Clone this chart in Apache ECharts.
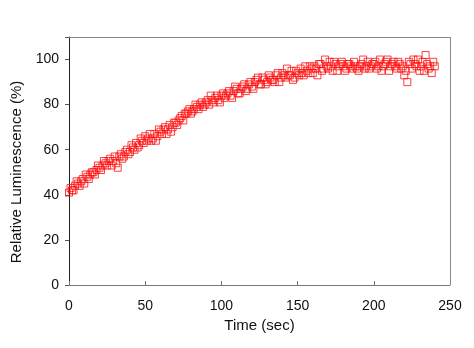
<!DOCTYPE html>
<html>
<head>
<meta charset="utf-8">
<script src="https://cdn.jsdelivr.net/npm/echarts@6/dist/echarts.min.js"></script>
<style>html,body{margin:0;padding:0;background:#fff}#c{width:474px;height:348px}</style>
</head>
<body>
<div id="c"></div>
<script>
var timesA = [0,2,4,6,8,10,12,14,16,18,20,22,24,26,28,30,32,34,36,38,40,42,44,46,48,50,52,54,56,58,60,62,64,66,68,70,72,74,76,78,80,82,84,86,88,90,92,94,96,98,100,102,104,106,108,110,112,114,116,118,120,122,124,126,128,130,132,134,136,138,140,142,144,146,148,150,152,154,156,158,160,162,164,166,168,170,172,174,176,178,180,182,184,186,188,190,192,194,196,198,200,202,204,206,208,210,212,214,216,218,220,222,224,226,228,230,232,234,236,238,240];
var lumA = [41,42,44,45,46,45,48,49,50,51,52,53,54,55,53,57,52,58,57,60,59,61,63,62,64,66,65,64,67,66,68,69,67,71,70,72,73,75,76,77,76,78,79,80,79,81,80,82,83,82,84,83,85,84,86,87,85,88,86,89,88,90,92,89,91,90,92,91,93,90,94,92,93,95,92,94,96,93,95,97,94,96,98,95,100,96,97,99,95,98,97,96,98,96,97,95,98,96,99,97,98,96,100,97,99,95,98,97,99,96,93,90,98,100,97,95,99,102,96,94,97];
var timesB = [1,3,5,7,9,11,13,15,17,19,21,23,25,27,29,31,33,35,37,39,41,43,45,47,49,51,53,55,57,59,61,63,65,67,69,71,73,75,77,79,81,83,85,87,89,91,93,95,97,99,101,103,105,107,109,111,113,115,117,119,121,123,125,127,129,131,133,135,137,139,141,143,145,147,149,151,153,155,157,159,161,163,165,167,169,171,173,175,177,179,181,183,185,187,189,191,193,195,197,199,201,203,205,207,209,211,213,215,217,219,221,223,225,227,229,231,233,235,237,239];
var lumB = [43,42,46,44,47,49,47,50,49,53,51,55,53,56,55,54,57,56,59,58,62,60,61,65,63,64,67,65,64,69,67,70,69,68,72,71,74,73,76,78,77,80,78,81,80,82,84,81,84,81,85,84,86,83,88,85,87,89,87,90,87,91,89,92,89,93,91,90,94,92,93,96,93,91,95,93,94,97,94,96,97,93,98,96,97,99,95,98,97,99,95,98,97,99,96,97,100,97,96,98,99,97,95,98,100,97,99,96,98,97,95,99,96,98,100,97,95,98,97,99];
var xTicks = [0,50,100,150,200,250];
var yTicks = [0,20,40,60,80,100];
var xMax = 250, yMax = 110;

var data = timesA.map(function(t,i){return [t, lumA[i]];})
  .concat(timesB.map(function(t,i){return [t, lumB[i]];}));
var font = 'Liberation Sans';
var chart = echarts.init(document.getElementById('c'), null, {renderer:'canvas'});
chart.setOption({
  animation:false,
  backgroundColor:'#fff',
  grid:{left:69,right:24,top:37,bottom:63},
  xAxis:{type:'value',min:0,max:xMax,interval:50,
    name:'Time (sec)',nameLocation:'middle',nameGap:33,
    nameTextStyle:{fontFamily:font,fontSize:15,color:'#111'},
    axisLine:{show:true,lineStyle:{color:'#777',width:1}},
    axisTick:{show:true,inside:true,length:4,lineStyle:{color:'#777'}},
    axisLabel:{fontFamily:font,fontSize:14,color:'#111',margin:14,
      formatter:function(v){return xTicks.indexOf(v)>=0?String(v):'';}},
    splitLine:{show:false}},
  yAxis:{type:'value',min:0,max:yMax,interval:20,
    name:'Relative Luminescence (%)',nameLocation:'middle',nameGap:41,
    nameTextStyle:{fontFamily:font,fontSize:15,color:'#111',padding:[0,22,0,0]},
    axisLine:{show:true,lineStyle:{color:'#222',width:1}},
    axisTick:{show:true,inside:false,length:4,lineStyle:{color:'#555'}},
    axisLabel:{fontFamily:font,fontSize:14,color:'#111',margin:10,
      formatter:function(v){return yTicks.indexOf(v)>=0?String(v):'';}},
    splitLine:{show:false}},
  series:[{type:'scatter',data:data,symbol:'rect',symbolSize:7,
    itemStyle:{color:'rgba(255,255,255,0)',borderColor:'#ff1010',borderWidth:1},
    markLine:{silent:true,symbol:['none','none'],label:{show:false},animation:false,
      lineStyle:{color:'#888',width:1,type:'solid'},
      emphasis:{disabled:true},
      data:[{yAxis:yMax},{xAxis:xMax}]}}]
});
</script>
</body>
</html>
